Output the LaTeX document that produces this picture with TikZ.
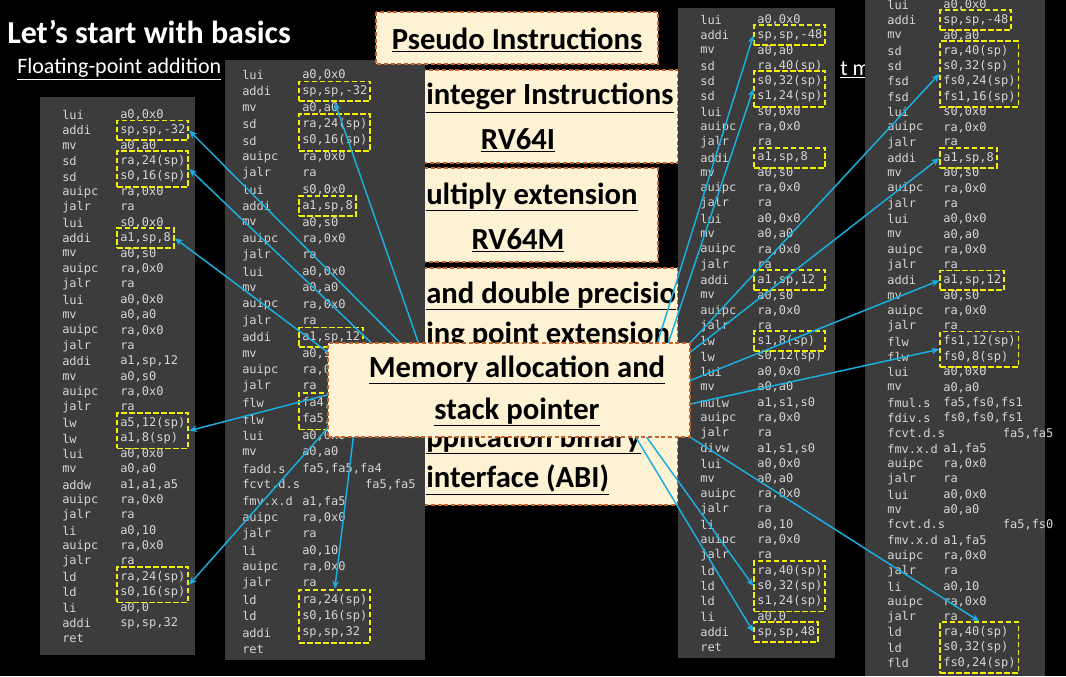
\documentclass[tikz,border=0pt]{standalone}
\usepackage{fontspec}
\setmainfont{Carlito}
\newfontfamily\codefont{DejaVu Sans Mono}
\usetikzlibrary{arrows.meta,calc,fit}
\definecolor{panelgrey}{HTML}{3C3C3C}
\definecolor{codegrey}{HTML}{D6D6D6}
\definecolor{hlyellow}{HTML}{F0F000}
\definecolor{boxfill}{HTML}{FDF2D4}
\definecolor{boxedge}{HTML}{C4622D}
\definecolor{ptrblue}{HTML}{1AAFE0}
\tikzset{
  code/.style={anchor=west, inner sep=0pt, text=codegrey, font=\codefont\fontsize{9}{9}\selectfont},
  panel/.style={fill=panelgrey},
  hl/.style={draw=hlyellow, line width=1.4pt, dash pattern=on 4pt off 2pt, inner xsep=2pt, inner ysep=3pt},
  isa/.style={fill=boxfill, draw=boxedge, densely dashed, line width=1.2pt},
  isatext/.style={font=\bfseries\fontsize{23}{23}\selectfont, inner sep=0pt},
  ptr/.style={draw=ptrblue, line width=1.1pt, -{Stealth[length=6pt,width=5pt]}},
}
\newcommand\codepanel[6]{%
  \foreach \m/\o [count=\i] in {#6} {
    \node[code] (#1m\i) at (#2, #4+#5*\i-#5) {\m};
    \node[code] (#1o\i) at (#3, #4+#5*\i-#5) {\o};
  }}

\begin{document}
\begin{tikzpicture}[x=0.75pt, y=-0.75pt]
\fill[black] (0,0) rectangle (1066,676);
\useasboundingbox (0,0) rectangle (1066,676);

% heading
\node[anchor=west, text=white, inner sep=0pt, font=\bfseries\fontsize{24}{24}\selectfont] (title) at (7,32) {Let’s start with basics};
\node[anchor=west, text=white, inner sep=0pt, font=\fontsize{16.5}{16.5}\selectfont] (subtitle) at (17,69) {\underline{Floating-point addition}};
\node[anchor=west, text=white, inner sep=0pt, font=\fontsize{16.5}{16.5}\selectfont] (subtitle2) at (840,70) {\underline{t m}};

% first panel
\fill[panel] (40,97) rectangle (195,655);
\codepanel{A}{62}{120}{115}{15.4}{lui/{a0,0x0}, addi/{sp,sp,-32}, mv/{a0,a0}, sd/{ra,24(sp)}, sd/{s0,16(sp)}, auipc/{ra,0x0}, jalr/ra, lui/{s0,0x0}, addi/{a1,sp,8}, mv/{a0,s0}, auipc/{ra,0x0}, jalr/ra, lui/{a0,0x0}, mv/{a0,a0}, auipc/{ra,0x0}, jalr/ra, addi/{a1,sp,12}, mv/{a0,s0}, auipc/{ra,0x0}, jalr/ra, lw/{a5,12(sp)}, lw/{a1,8(sp)}, lui/{a0,0x0}, mv/{a0,a0}, addw/{a1,a1,a5}, auipc/{ra,0x0}, jalr/ra, li/{a0,10}, auipc/{ra,0x0}, jalr/ra, ld/{ra,24(sp)}, ld/{s0,16(sp)}, li/{a0,0}, addi/{sp,sp,32}, ret/{}}
\node[hl, fit=(Ao2)] (hA1) {};
\node[hl, fit=(Ao4)(Ao5)] (hA2) {};
\node[hl, fit=(Ao9)] (hA3) {};
\node[hl, fit=(Ao21)(Ao22)] (hA4) {};
\node[hl, fit=(Ao31)(Ao32)] (hA5) {};

% extension boxes
\draw[isa] (376,70) rectangle (678,163);
\node[isatext, anchor=west] (rvi1) at (426,98) {\underline{integer Instructions}};
\node[isatext] (rvi2) at (518,140) {\underline{RV64I}};
\draw[isa] (376,168) rectangle (658,262);
\node[isatext, anchor=west] (rvm1) at (426,197) {\underline{ultiply extension}};
\node[isatext] (rvm2) at (518,240) {\underline{RV64M}};
\draw[isa] (376,268) rectangle (678,345);
\node[isatext, anchor=west] (rvd1) at (426,296) {\underline{and double precisio}};
\node[isatext, anchor=west] (rvd2) at (426,337) {\underline{ing point extension}};
\draw[isa] (376,400) rectangle (678,505);
\node[isatext, anchor=west] (abi1) at (426,440) {\underline{pplication binary}};
\node[isatext, anchor=west] (abi2) at (426,480) {\underline{interface (ABI)}};

% second panel
\fill[panel] (225,60) rectangle (425,660);
\codepanel{B}{242}{302}{75}{16.4}{lui/{a0,0x0}, addi/{sp,sp,-32}, mv/{a0,a0}, sd/{ra,24(sp)}, sd/{s0,16(sp)}, auipc/{ra,0x0}, jalr/ra, lui/{s0,0x0}, addi/{a1,sp,8}, mv/{a0,s0}, auipc/{ra,0x0}, jalr/ra, lui/{a0,0x0}, mv/{a0,a0}, auipc/{ra,0x0}, jalr/ra, addi/{a1,sp,12}, mv/{a0,s0}, auipc/{ra,0x0}, jalr/ra, flw/{fa4,12(sp)}, flw/{fa5,8(sp)}, lui/{a0,0x0}, mv/{a0,a0}, fadd.s/{fa5,fa5,fa4}, {fcvt.d.s\hphantom{000000000}fa5,fa5}/{}, fmv.x.d/{a1,fa5}, auipc/{ra,0x0}, jalr/ra, li/{a0,10}, auipc/{ra,0x0}, jalr/ra, ld/{ra,24(sp)}, ld/{s0,16(sp)}, addi/{sp,sp,32}, ret/{}}
\node[hl, fit=(Bo2)] (hB1) {};
\node[hl, fit=(Bo4)(Bo5)] (hB2) {};
\node[hl, fit=(Bo9)] (hB3) {};
\node[hl, fit=(Bo17)] (hB4) {};
\node[hl, fit=(Bo21)(Bo22)] (hB5) {};
\node[hl, fit=(Bo33)(Bo35)] (hB6) {};

\draw[isa] (376,12) rectangle (658,64);
\node[isatext] (pseudo) at (517,40) {\underline{Pseudo Instructions}};

% third panel
\fill[panel] (678,8) rectangle (835,658);
\codepanel{C}{700}{757}{20}{15.3}{lui/{a0,0x0}, addi/{sp,sp,-48}, mv/{a0,a0}, sd/{ra,40(sp)}, sd/{s0,32(sp)}, sd/{s1,24(sp)}, lui/{s0,0x0}, auipc/{ra,0x0}, jalr/ra, addi/{a1,sp,8}, mv/{a0,s0}, auipc/{ra,0x0}, jalr/ra, lui/{a0,0x0}, mv/{a0,a0}, auipc/{ra,0x0}, jalr/ra, addi/{a1,sp,12}, mv/{a0,s0}, auipc/{ra,0x0}, jalr/ra, lw/{s1,8(sp)}, lw/{s0,12(sp)}, lui/{a0,0x0}, mv/{a0,a0}, mulw/{a1,s1,s0}, auipc/{ra,0x0}, jalr/ra, divw/{a1,s1,s0}, lui/{a0,0x0}, mv/{a0,a0}, auipc/{ra,0x0}, jalr/ra, li/{a0,10}, auipc/{ra,0x0}, jalr/ra, ld/{ra,40(sp)}, ld/{s0,32(sp)}, ld/{s1,24(sp)}, li/{a0,0}, addi/{sp,sp,48}, ret/{}}
\node[hl, fit=(Co2)] (hC1) {};
\node[hl, fit=(Co5)(Co6)] (hC2) {};
\node[hl, fit=(Co10)(Co6.east|-Co10)] (hC3) {};
\node[hl, fit=(Co18)(Co6.east|-Co18)] (hC4) {};
\node[hl, fit=(Co22)(Co6.east|-Co22)] (hC5) {};
\node[hl, fit=(Co37)(Co39)] (hC6) {};
\node[hl, fit=(Co41)] (hC7) {};

% fourth panel
\fill[panel] (865,-5) rectangle (1045,676);
\codepanel{D}{887}{943}{5}{15.3}{lui/{a0,0x0}, addi/{sp,sp,-48}, mv/{a0,a0}, sd/{ra,40(sp)}, sd/{s0,32(sp)}, fsd/{fs0,24(sp)}, fsd/{fs1,16(sp)}, lui/{s0,0x0}, auipc/{ra,0x0}, jalr/ra, addi/{a1,sp,8}, mv/{a0,s0}, auipc/{ra,0x0}, jalr/ra, lui/{a0,0x0}, mv/{a0,a0}, auipc/{ra,0x0}, jalr/ra, addi/{a1,sp,12}, mv/{a0,s0}, auipc/{ra,0x0}, jalr/ra, flw/{fs1,12(sp)}, flw/{fs0,8(sp)}, lui/{a0,0x0}, mv/{a0,a0}, fmul.s/{fa5,fs0,fs1}, fdiv.s/{fs0,fs0,fs1}, {fcvt.d.s\hphantom{00000000}fa5,fa5}/{}, fmv.x.d/{a1,fa5}, auipc/{ra,0x0}, jalr/ra, lui/{a0,0x0}, mv/{a0,a0}, {fcvt.d.s\hphantom{00000000}fa5,fs0}/{}, fmv.x.d/{a1,fa5}, auipc/{ra,0x0}, jalr/ra, li/{a0,10}, auipc/{ra,0x0}, jalr/ra, ld/{ra,40(sp)}, ld/{s0,32(sp)}, fld/{fs0,24(sp)}}
\node[hl, fit=(Do2)] (hD1) {};
\node[hl, fit=(Do4)(Do7)] (hD2) {};
\node[hl, fit=(Do11)(Do12.east|-Do11)] (hD3) {};
\node[hl, fit=(Do19)(Do12.east|-Do19)] (hD4) {};
\node[hl, fit=(Do23)(Do24)] (hD5) {};
\node[hl, fit=(Do42)(Do44)] (hD6) {};

% the box everything points from
\coordinate (mem nw) at (328,343);
\coordinate (mem se) at (690,437);
\coordinate (mem ne) at (mem se|-mem nw);
\coordinate (mem sw) at (mem nw|-mem se);

% pointers
\draw[ptr] ($(mem nw)!0.2!(mem ne)$) -- (hA1.east);
\draw[ptr] ($(mem nw)!0.12!(mem ne)$) -- (hA2.east);
\draw[ptr] ($(mem nw)!0.1!(mem sw)$) -- (hA3.east);
\draw[ptr] ($(mem nw)!0.55!(mem sw)$) -- (hA4.east);
\draw[ptr] ($(mem nw)!0.9!(mem sw)$) -- (hA5.east);
\draw[ptr] ($(mem nw)!0.25!(mem ne)$) -- (hB1.south);
\draw[ptr] ($(mem sw)!0.07!(mem se)$) -- (hB6.north);
\draw[ptr] ($(mem nw)!0.91!(mem ne)$) -- (hC1.west);
\draw[ptr] ($(mem nw)!0.94!(mem ne)$) -- (hC2.west);
\draw[ptr] ($(mem sw)!0.88!(mem se)$) -- (hC6.west);
\draw[ptr] ($(mem sw)!0.85!(mem se)$) -- (hC7.west);
\draw[ptr] (mem ne) -- (hD2.west);
\draw[ptr] ($(mem ne)!0.1!(mem se)$) -- (hD3.west);
\draw[ptr] ($(mem ne)!0.4!(mem se)$) -- (hD4.west);
\draw[ptr] ($(mem ne)!0.65!(mem se)$) -- (hD5.west);
\draw[ptr] (mem se) -- (hD6.north);

\node[isa, fit=(mem nw)(mem se), inner sep=0pt] (mem) {};
\node[isatext] (mem1) at (517,370) {\underline{Memory allocation and}};
\node[isatext] (mem2) at (517,412) {\underline{stack pointer}};
\end{tikzpicture}
\end{document}
